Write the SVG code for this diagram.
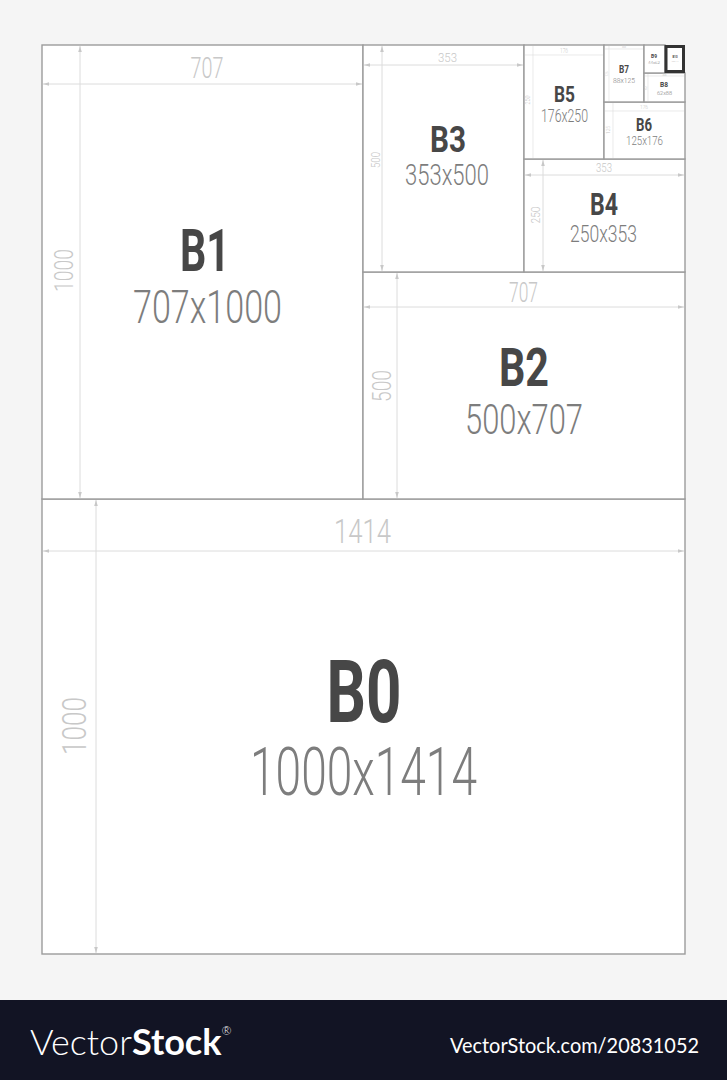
<svg xmlns="http://www.w3.org/2000/svg" width="727" height="1080" viewBox="0 0 727 1080">
<defs>
<style>
.bd{fill:#fff;stroke:#9c9c9c;stroke-width:1.4}
.b10{fill:#fff;stroke:#333;stroke-width:3}
.h{font-family:"Liberation Sans Narrow","Roboto","Liberation Sans",sans-serif;font-weight:700;fill:#474747;text-anchor:middle}
.s{font-family:"Roboto","Liberation Sans Narrow","Liberation Sans",sans-serif;font-weight:300;fill:#7d7d7d;text-anchor:middle}
.d{font-family:"Roboto","Liberation Sans Narrow","Liberation Sans",sans-serif;font-weight:300;fill:#c8c8c8;text-anchor:middle}
.dl{stroke:#dcdcdc;stroke-width:1;fill:none;marker-start:url(#a);marker-end:url(#a)}
.dt{stroke:#dcdcdc;stroke-width:0.6;fill:none}
</style>
<marker id="a" viewBox="0 0 10 10" refX="10" refY="5" markerWidth="6" markerHeight="6" orient="auto-start-reverse" markerUnits="userSpaceOnUse">
<path d="M0,2 L10,5 L0,8 z" fill="#c8c8c8"/>
</marker>
</defs>
<rect x="0" y="0" width="727" height="1080" fill="#f5f5f5"/>

<g id="B0"><rect class="bd" x="42" y="499" width="643" height="455"/>
<text class="h" x="364" y="722" font-size="87" textLength="75" lengthAdjust="spacingAndGlyphs">B0</text>
<text class="s" x="363.5" y="795" font-size="67" textLength="227" lengthAdjust="spacingAndGlyphs">1000x1414</text></g>

<g id="B1"><rect class="bd" x="42" y="45" width="321" height="454"/>
<text class="h" x="205" y="271" font-size="60" textLength="50" lengthAdjust="spacingAndGlyphs">B1</text>
<text class="s" x="207.5" y="323" font-size="46" textLength="149" lengthAdjust="spacingAndGlyphs">707x1000</text></g>

<g id="B2"><rect class="bd" x="363" y="272" width="322" height="227"/>
<text class="h" x="524" y="386" font-size="54" textLength="50" lengthAdjust="spacingAndGlyphs">B2</text>
<text class="s" x="524" y="434" font-size="43" textLength="118" lengthAdjust="spacingAndGlyphs">500x707</text></g>

<g id="B3"><rect class="bd" x="363" y="45" width="161" height="227"/>
<text class="h" x="448" y="152" font-size="36" textLength="36" lengthAdjust="spacingAndGlyphs">B3</text>
<text class="s" x="447" y="185" font-size="29" textLength="84" lengthAdjust="spacingAndGlyphs">353x500</text></g>

<g id="B4"><rect class="bd" x="524" y="159" width="161" height="113"/>
<text class="h" x="604" y="214.5" font-size="31" textLength="28" lengthAdjust="spacingAndGlyphs">B4</text>
<text class="s" x="603.5" y="241.5" font-size="24" textLength="67" lengthAdjust="spacingAndGlyphs">250x353</text></g>

<g id="B5"><rect class="bd" x="524" y="45" width="80" height="114"/>
<text class="h" x="564.5" y="102" font-size="22" textLength="21" lengthAdjust="spacingAndGlyphs">B5</text>
<text class="s" x="564.5" y="122" font-size="18" textLength="47" lengthAdjust="spacingAndGlyphs">176x250</text></g>

<g id="B6"><rect class="bd" x="604" y="102" width="81" height="57"/>
<text class="h" x="644" y="131" font-size="18" textLength="16" lengthAdjust="spacingAndGlyphs">B6</text>
<text class="s" x="644.5" y="145" font-size="12.5" textLength="37" lengthAdjust="spacingAndGlyphs">125x176</text></g>

<g id="B7"><rect class="bd" x="604" y="45" width="40" height="57"/>
<text class="h" x="624" y="73" font-size="10" textLength="10" lengthAdjust="spacingAndGlyphs">B7</text>
<text class="s" x="624" y="83" font-size="8" textLength="22" lengthAdjust="spacingAndGlyphs">88x125</text></g>

<g id="B8"><rect class="bd" x="644" y="73" width="41" height="29"/>
<text class="h" x="664" y="87" font-size="7" textLength="8" lengthAdjust="spacingAndGlyphs">B8</text>
<text class="s" x="664.5" y="95" font-size="5" textLength="15" lengthAdjust="spacingAndGlyphs">62x88</text></g>

<g id="B9"><rect class="bd" x="644" y="45" width="21" height="28"/>
<text class="h" x="654" y="58" font-size="5.5" textLength="6" lengthAdjust="spacingAndGlyphs">B9</text>
<text class="s" x="654" y="64" font-size="4" textLength="12" lengthAdjust="spacingAndGlyphs">44x62</text></g>

<g id="B10"><rect class="b10" x="666" y="46.5" width="17.5" height="25"/>
<text class="h" x="675" y="58" font-size="3.5" textLength="5" lengthAdjust="spacingAndGlyphs">B10</text>
<text class="s" x="675" y="62" font-size="2.5" textLength="7" lengthAdjust="spacingAndGlyphs">31x44</text></g>

<g id="dimensions">
<line class="dl" x1="43" y1="84" x2="362" y2="84"/>
<line class="dl" x1="80" y1="46" x2="80" y2="498"/>
<line class="dl" x1="43" y1="551" x2="684" y2="551"/>
<line class="dl" x1="96" y1="500" x2="96" y2="953"/>
<line class="dl" x1="364" y1="307" x2="684" y2="307"/>
<line class="dl" x1="397" y1="273" x2="397" y2="498"/>
<line class="dl" x1="364" y1="65" x2="523" y2="65"/>
<line class="dl" x1="382" y1="46" x2="382" y2="271"/>
<line class="dl" x1="525" y1="175" x2="684" y2="175"/>
<line class="dl" x1="543" y1="160" x2="543" y2="271"/>
<line class="dt" x1="525" y1="55" x2="603" y2="55"/>
<line class="dt" x1="533" y1="46" x2="533" y2="158"/>
<line class="dt" x1="605" y1="111" x2="684" y2="111"/>
<line class="dt" x1="613" y1="103" x2="613" y2="158"/>
<line class="dt" x1="605" y1="49" x2="643" y2="49"/>
<line class="dt" x1="609" y1="46" x2="609" y2="101"/>
<line class="dt" x1="645" y1="76" x2="684" y2="76"/>
<line class="dt" x1="648" y1="74" x2="648" y2="101"/>
</g>

<g id="dimension-labels">
<text class="d" x="207" y="78" font-size="29" textLength="33" lengthAdjust="spacingAndGlyphs">707</text>
<text class="d" transform="translate(73,270.5) rotate(-90)" font-size="26" textLength="43" lengthAdjust="spacingAndGlyphs">1000</text>
<text class="d" x="362.5" y="543" font-size="34" textLength="57" lengthAdjust="spacingAndGlyphs">1414</text>
<text class="d" transform="translate(86,726) rotate(-90)" font-size="34" textLength="58" lengthAdjust="spacingAndGlyphs">1000</text>
<text class="d" x="523.5" y="302" font-size="27" textLength="29" lengthAdjust="spacingAndGlyphs">707</text>
<text class="d" transform="translate(391,386) rotate(-90)" font-size="26" textLength="32" lengthAdjust="spacingAndGlyphs">500</text>
<text class="d" x="447.5" y="62" font-size="13" textLength="19" lengthAdjust="spacingAndGlyphs">353</text>
<text class="d" transform="translate(380,160) rotate(-90)" font-size="13" textLength="16" lengthAdjust="spacingAndGlyphs">500</text>
<text class="d" x="604" y="172" font-size="12" textLength="16" lengthAdjust="spacingAndGlyphs">353</text>
<text class="d" transform="translate(540,215) rotate(-90)" font-size="12" textLength="17" lengthAdjust="spacingAndGlyphs">250</text>
<text class="d" x="564" y="53" font-size="7" textLength="8" lengthAdjust="spacingAndGlyphs">176</text>
<text class="d" transform="translate(530,100) rotate(-90)" font-size="7" textLength="9" lengthAdjust="spacingAndGlyphs">250</text>
<text class="d" x="644" y="109" font-size="6" textLength="8" lengthAdjust="spacingAndGlyphs">176</text>
<text class="d" transform="translate(610,130) rotate(-90)" font-size="6" textLength="8" lengthAdjust="spacingAndGlyphs">125</text>
<text class="d" x="624" y="48" font-size="3.5" textLength="4" lengthAdjust="spacingAndGlyphs">88</text>
<text class="d" transform="translate(608,74) rotate(-90)" font-size="3.5" textLength="5" lengthAdjust="spacingAndGlyphs">125</text>
<text class="d" x="664.5" y="75.5" font-size="3" textLength="4" lengthAdjust="spacingAndGlyphs">88</text>
<text class="d" transform="translate(647,88) rotate(-90)" font-size="3" textLength="4" lengthAdjust="spacingAndGlyphs">62</text>
</g>

<g id="banner">
<rect x="0" y="1000" width="727" height="80" fill="#121424"/>
<text x="30" y="1055" font-family="Lato,'Open Sans',sans-serif" font-size="36" fill="#fff"><tspan font-weight="300">Vector</tspan><tspan font-weight="700">Stock</tspan><tspan font-size="12" dy="-20" font-weight="300">®</tspan></text>
<text x="450" y="1053" font-family="Lato,'Open Sans',sans-serif" font-size="21" fill="#fff" textLength="249" lengthAdjust="spacingAndGlyphs">VectorStock.com/20831052</text>
</g>
</svg>
